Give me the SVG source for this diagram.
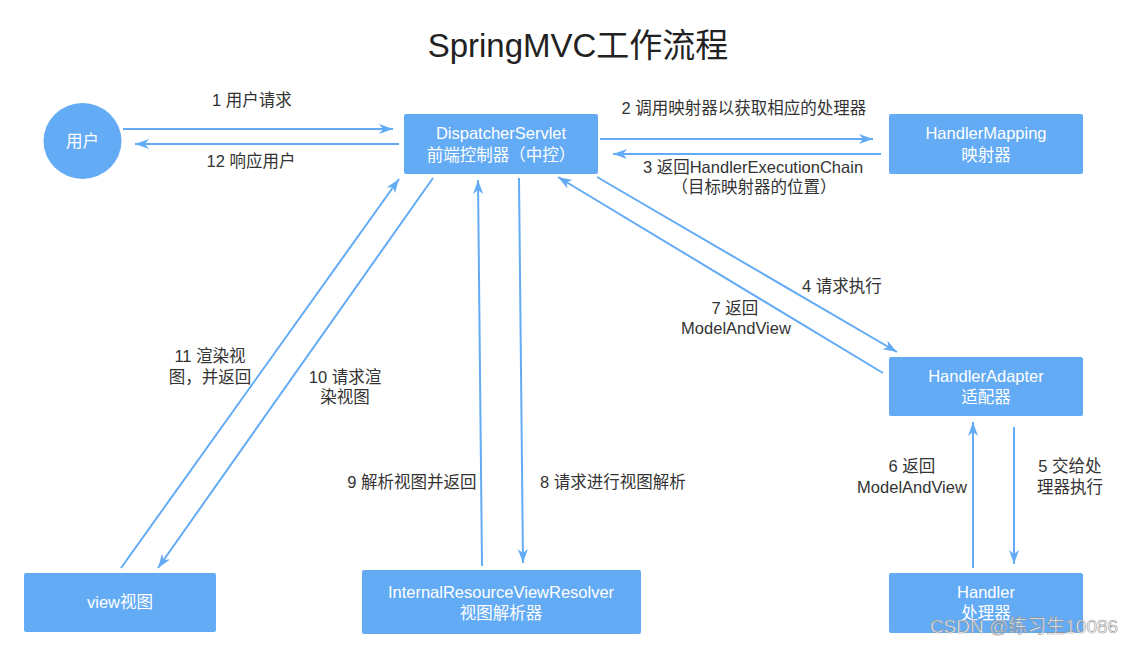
<svg xmlns="http://www.w3.org/2000/svg" width="1136" height="645" viewBox="0 0 1136 645">
<style>
.box{fill:#64abf5;}
.bt{fill:#ffffff;font-family:"Liberation Sans","Noto Sans CJK SC",sans-serif;font-size:16.5px;text-anchor:middle;}
.lbl{fill:#333333;font-family:"Liberation Sans","Noto Sans CJK SC",sans-serif;font-size:16.5px;text-anchor:middle;}
.ln{stroke:#64abf5;stroke-width:2;fill:none;marker-end:url(#ah);}
</style>
<defs>
<marker id="ah" markerUnits="userSpaceOnUse" markerWidth="16" markerHeight="12" refX="14" refY="5" orient="auto">
<path d="M0,0 L14,5 L0,10 L4,5 Z" fill="#64abf5"/>
</marker>
</defs>
<rect width="1136" height="645" fill="#ffffff"/>
<text x="578" y="57" font-family="Liberation Sans,Noto Sans CJK SC,sans-serif" font-size="33" fill="#222222" text-anchor="middle">SpringMVC工作流程</text>

<g id="user"><ellipse class="box" cx="82.5" cy="141" rx="39" ry="38"/><text class="bt" x="82.5" y="147">用户</text></g>
<g id="dispatcher"><rect class="box" x="404" y="114" width="194" height="60" rx="2"/><text class="bt" x="501" y="139">DispatcherServlet</text><text class="bt" x="501" y="161">前端控制器（中控）</text></g>
<g id="handlerMapping"><rect class="box" x="889" y="114" width="194" height="60" rx="2"/><text class="bt" x="986" y="139">HandlerMapping</text><text class="bt" x="986" y="161">映射器</text></g>
<g id="handlerAdapter"><rect class="box" x="889" y="357" width="194" height="59" rx="2"/><text class="bt" x="986" y="382">HandlerAdapter</text><text class="bt" x="986" y="403">适配器</text></g>
<g id="handler"><rect class="box" x="889" y="573" width="194" height="60" rx="2"/><text class="bt" x="986" y="598">Handler</text><text class="bt" x="986" y="619">处理器</text></g>
<g id="view"><rect class="box" x="24" y="573" width="192" height="59" rx="2"/><text class="bt" x="120" y="608">view视图</text></g>
<g id="viewResolver"><rect class="box" x="362" y="570" width="279" height="64" rx="2"/><text class="bt" x="501" y="598">InternalResourceViewResolver</text><text class="bt" x="501" y="619">视图解析器</text></g>

<g id="connectors">
<line class="ln" x1="123" y1="129" x2="393" y2="129"/>
<line class="ln" x1="399" y1="144" x2="135" y2="144"/>
<line class="ln" x1="600" y1="139" x2="873" y2="139"/>
<line class="ln" x1="881" y1="154" x2="613" y2="154"/>
<line class="ln" x1="597" y1="177" x2="897" y2="352"/>
<line class="ln" x1="883" y1="373" x2="558" y2="177"/>
<line class="ln" x1="1014" y1="427" x2="1014" y2="564"/>
<line class="ln" x1="973" y1="568" x2="973" y2="422"/>
<line class="ln" x1="482" y1="566" x2="478" y2="180"/>
<line class="ln" x1="519" y1="178" x2="523" y2="563"/>
<line class="ln" x1="433" y1="178" x2="158" y2="568"/>
<line class="ln" x1="121" y1="568" x2="399" y2="179"/>
</g>

<g id="labels">
<text class="lbl" x="252" y="106">1 用户请求</text>
<text class="lbl" x="251" y="167">12 响应用户</text>
<text class="lbl" x="744" y="114">2 调用映射器以获取相应的处理器</text>
<text class="lbl" x="753" y="173">3 返回HandlerExecutionChain</text>
<text class="lbl" x="754" y="193">（目标映射器的位置）</text>
<text class="lbl" x="842" y="292">4 请求执行</text>
<text class="lbl" x="735" y="314">7 返回</text>
<text class="lbl" x="736" y="334">ModelAndView</text>
<text class="lbl" x="912" y="472">6 返回</text>
<text class="lbl" x="912" y="493">ModelAndView</text>
<text class="lbl" x="1070" y="472">5 交给处</text>
<text class="lbl" x="1070" y="493">理器执行</text>
<text class="lbl" x="210" y="362">11 渲染视</text>
<text class="lbl" x="210" y="383">图，并返回</text>
<text class="lbl" x="345" y="383">10 请求渲</text>
<text class="lbl" x="345" y="403">染视图</text>
<text class="lbl" x="412" y="488">9 解析视图并返回</text>
<text class="lbl" x="613" y="488">8 请求进行视图解析</text>
</g>
<text x="1024" y="633" font-family="Liberation Sans,Noto Sans CJK SC,sans-serif" font-size="19" fill="#ffffff" stroke="#8a8a8a" stroke-width="0.6" text-anchor="middle" opacity="0.9">CSDN @练习生10086</text>
</svg>
